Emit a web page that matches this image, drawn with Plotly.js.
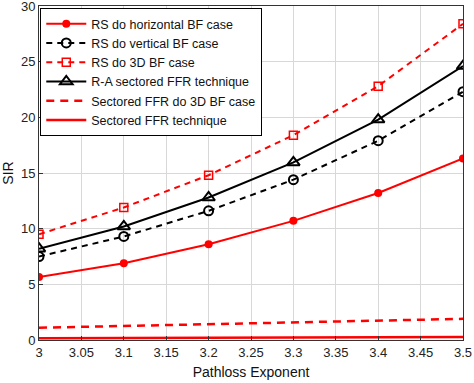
<!DOCTYPE html>
<html><head><meta charset="utf-8">
<script src="https://cdn.plot.ly/plotly-3.0.1.min.js"></script>
<style>html,body{margin:0;padding:0;background:#fff}#c{width:474px;height:383px}</style>
</head><body><div id="c"></div>
<script>
const pathloss = [3, 3.1, 3.2, 3.3, 3.4, 3.5];
const rsHorizontal = [5.65, 6.9, 8.6, 10.7, 13.2, 16.3];
const rsVertical = [7.5, 9.3, 11.6, 14.4, 17.9, 22.3];
const rs3D = [9.5, 11.9, 14.8, 18.4, 22.8, 28.4];
const raSectored = [8.2, 10.2, 12.8, 15.95, 19.8, 24.6];
const sectored3D = [1.1, 1.25, 1.4, 1.55, 1.7, 1.9];
const sectoredFFR = [0.15, 0.17, 0.19, 0.21, 0.24, 0.27];
const xTicks = [3, 3.05, 3.1, 3.15, 3.2, 3.25, 3.3, 3.35, 3.4, 3.45, 3.5];
const yTicks = [0, 5, 10, 15, 20, 25, 30];

const traces = [
  {name:'RS do horizontal BF case', x:pathloss, y:rsHorizontal, mode:'lines+markers',
   line:{color:'#ff0000', width:2}, marker:{symbol:'circle', size:8, color:'#ff0000'}},
  {name:'RS do vertical BF case', x:pathloss, y:rsVertical, mode:'lines+markers',
   line:{color:'#000000', width:2, dash:'6px,5px'}, marker:{symbol:'circle-open', size:9, color:'#000000', line:{width:2}}},
  {name:'RS do 3D BF case', x:pathloss, y:rs3D, mode:'lines+markers',
   line:{color:'#ff0000', width:2, dash:'6px,5px'}, marker:{symbol:'square-open', size:8, color:'#ff0000', line:{width:1.5}}},
  {name:'R-A sectored FFR technique', x:pathloss, y:raSectored, mode:'lines+markers',
   line:{color:'#000000', width:2}, marker:{symbol:'triangle-up-open', size:11, color:'#000000', line:{width:2}}},
  {name:'Sectored FFR do 3D BF case', x:pathloss, y:sectored3D, mode:'lines',
   line:{color:'#ff0000', width:2.5, dash:'8px,6px'}},
  {name:'Sectored FFR technique', x:pathloss, y:sectoredFFR, mode:'lines',
   line:{color:'#ff0000', width:2.5}}
];

const layout = {
  width:474, height:383,
  margin:{l:39, r:11, t:6, b:43},
  paper_bgcolor:'#fff', plot_bgcolor:'#fff',
  font:{family:'Liberation Sans, Arial, sans-serif', size:13, color:'#222'},
  showlegend:true,
  legend:{x:0.003, y:0.994, xanchor:'left', yanchor:'top', bgcolor:'#fff',
    bordercolor:'#000', borderwidth:1, font:{size:12.5, color:'#111'},
    tracegroupgap:0, itemwidth:40},
  xaxis:{range:[3,3.5], tickvals:xTicks, ticktext:xTicks.map(String),
    showgrid:true, gridcolor:'#d8d8d8', zeroline:false,
    showline:true, linecolor:'#333', linewidth:1, mirror:true,
    ticks:'inside', ticklen:4, tickcolor:'#333', ticklabeloverflow:'allow',
    title:{text:'Pathloss Exponent', font:{size:14, color:'#111'}, standoff:8}},
  yaxis:{range:[0,30], tickvals:yTicks, showgrid:true, gridcolor:'#d8d8d8', zeroline:false,
    showline:true, linecolor:'#333', linewidth:1, mirror:true,
    ticks:'inside', ticklen:4, tickcolor:'#333', ticklabeloverflow:'allow',
    title:{text:'SIR', font:{size:14, color:'#111'}, standoff:4}}
};
Plotly.newPlot('c', traces, layout, {displayModeBar:false, staticPlot:true});
</script></body></html>
